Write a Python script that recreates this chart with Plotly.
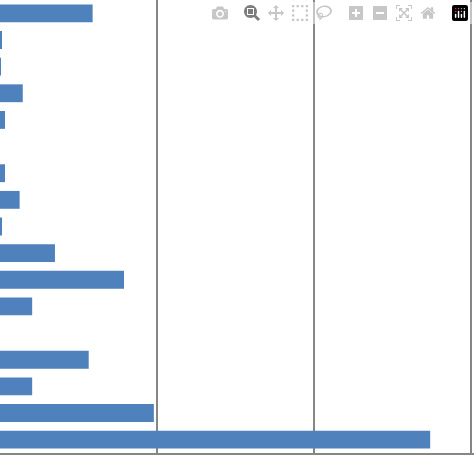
import plotly.graph_objects as go

categories = [f"c{i}" for i in range(1, 18)]
values = [0.59, 0.012, 0.004, 0.145, 0.032, 0.0, 0.032, 0.125, 0.012, 0.35,
          0.79, 0.205, 0.0, 0.565, 0.205, 0.98, 2.74]

fig = go.Figure(go.Bar(x=values, y=categories, orientation="h",
                       marker=dict(color="#4F81BD", line=dict(width=0))))
fig.update_layout(
    width=474, height=456, margin=dict(l=0, r=0, t=0, b=3),
    plot_bgcolor="white", paper_bgcolor="white", bargap=0.33,
    showlegend=False,
    xaxis=dict(range=[0, 474/157], tickvals=[1, 2, 3], showticklabels=False,
               showgrid=True, gridcolor="#868686", gridwidth=1.5, zeroline=False,
               showline=True, linecolor="#868686", linewidth=1.5),
    yaxis=dict(autorange="reversed", showticklabels=False, showgrid=False,
               showline=False, zeroline=False, ticks=""),
)
fig.write_html("out.html", post_script="document.body.style.margin='0';document.body.style.overflow='hidden';")
